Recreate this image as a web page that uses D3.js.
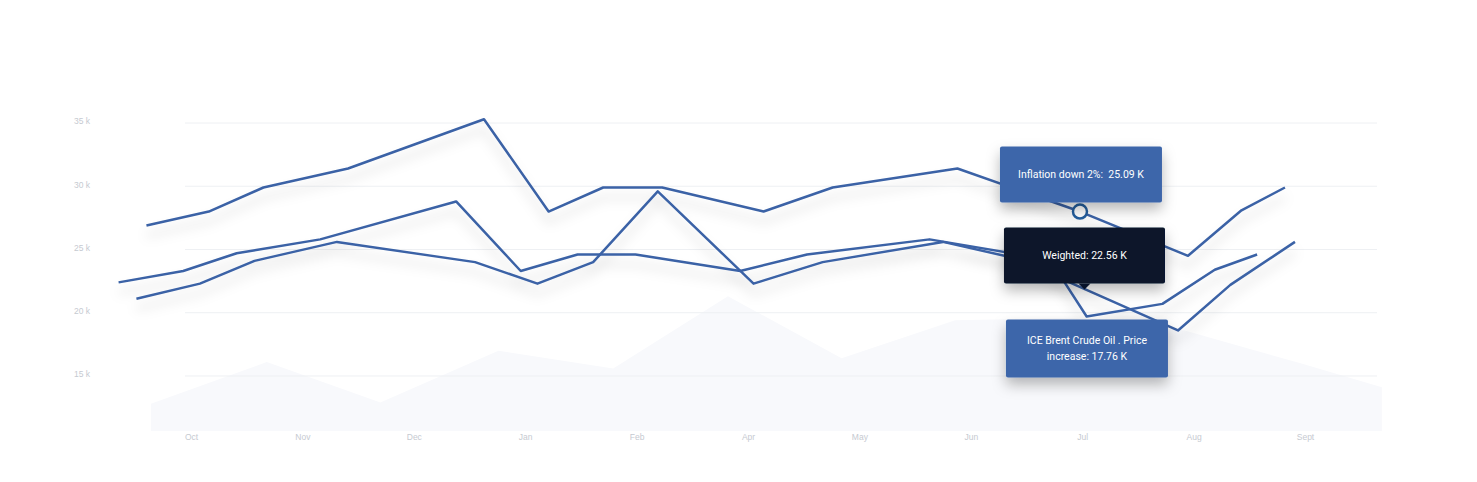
<!DOCTYPE html>
<html>
<head>
<meta charset="utf-8">
<script src="https://cdn.jsdelivr.net/npm/d3@7"></script>
<style>
  body { margin: 0; background: #fff; }
  svg { display: block; font-family: Roboto, "Noto Sans", sans-serif; }
</style>
</head>
<body>
<svg id="chart" width="1477" height="482"></svg>
<script>
// x values are in "month slots" (0 = Oct ... 10 = Sept), y values in thousands
const months = ["Oct", "Nov", "Dec", "Jan", "Feb", "Apr", "May", "Jun", "Jul", "Aug", "Sept"]
const yTicks = [15, 20, 25, 30, 35]

const inflationX = [-0.40, 0.16, 0.65, 1.41, 2.63, 3.21, 3.70, 4.23, 5.14, 5.76, 6.88, 7.98, 8.95, 9.43, 9.82]
const inflationY = [26.9, 28.0, 29.9, 31.4, 35.3, 28.0, 29.9, 29.9, 28.0, 29.9, 31.4, 28.0, 24.5, 28.1, 29.9]

const weightedX = [-0.65, -0.07, 0.41, 1.16, 2.38, 2.96, 3.47, 3.99, 4.93, 5.53, 6.63, 7.71, 8.04, 8.72, 9.19, 9.57]
const weightedY = [22.4, 23.3, 24.7, 25.8, 28.8, 23.3, 24.6, 24.6, 23.3, 24.6, 25.8, 24.2, 19.7, 20.7, 23.4, 24.6]

const brentX = [-0.49, 0.08, 0.57, 1.31, 2.55, 3.11, 3.61, 4.19, 5.05, 5.67, 6.75, 7.40, 8.86, 9.33, 9.91]
const brentY = [21.1, 22.3, 24.1, 25.6, 24.0, 22.3, 24.0, 29.6, 22.3, 24.0, 25.6, 24.3, 18.6, 22.2, 25.6]

const volumeX = [-0.36, 0.68, 1.70, 2.76, 3.79, 4.82, 5.84, 6.86, 7.89, 8.92, 9.96, 10.69]
const volumeY = [12.8, 16.1, 12.9, 17.0, 15.6, 21.3, 16.4, 19.4, 19.6, 18.6, 16.0, 14.1]

// the hovered point on the inflation line
const hoverIndex = 11
const tipInflation = "Inflation down 2%:  25.09 K"
const tipWeighted = "Weighted: 22.56 K"
const tipBrent = ["ICE Brent Crude Oil . Price", "increase: 17.76 K"]

const svg = d3.select("#chart")

const x = d3.scaleLinear().domain([0, 10]).range([191, 1305])
const y = d3.scaleLinear().domain([10.65, 35]).range([431, 123])

const lineColor = "#3b62a6"

// shadows
const defs = svg.append("defs")
const lineShadow = defs.append("filter").attr("id", "lineShadow")
  .attr("x", "-10%").attr("y", "-30%").attr("width", "120%").attr("height", "180%")
lineShadow.append("feDropShadow")
  .attr("dx", 0).attr("dy", 10).attr("stdDeviation", 6)
  .attr("flood-color", "#000").attr("flood-opacity", 0.17)

const boxShadow = defs.append("filter").attr("id", "boxShadow")
  .attr("x", "-30%").attr("y", "-40%").attr("width", "160%").attr("height", "200%")
boxShadow.append("feDropShadow")
  .attr("dx", 0).attr("dy", 7).attr("stdDeviation", 7)
  .attr("flood-color", "#000").attr("flood-opacity", 0.28)

// background area
const volume = volumeX.map((d, i) => ({ x: d, y: volumeY[i] }))
const area = d3.area()
  .x(d => x(d.x))
  .y0(y(10.65))
  .y1(d => y(d.y))

svg.append("path")
  .datum(volume)
  .attr("d", area)
  .attr("fill", "#f8f9fc")

// grid lines
svg.append("g")
  .selectAll("line")
  .data(yTicks)
  .enter().append("line")
    .attr("x1", 185)
    .attr("x2", 1377)
    .attr("y1", d => y(d))
    .attr("y2", d => y(d))
    .attr("stroke", "#eef0f3")
    .attr("stroke-width", 1)

// y axis labels
const yAxis = svg.append("g")
  .attr("transform", "translate(74,0)")
  .call(d3.axisLeft(y).tickValues(yTicks).tickFormat(d => d + " k").tickSize(0))
yAxis.select(".domain").remove()
yAxis.selectAll("text")
  .attr("x", 0)
  .attr("dy", "0.1em")
  .attr("text-anchor", "start")
  .attr("fill", "#c6cad1")
  .style("font-size", "8.5px")

// x axis labels
const xAxis = svg.append("g")
  .attr("transform", "translate(0,431)")
  .call(d3.axisBottom(x).tickValues(d3.range(months.length)).tickFormat(i => months[i]).tickSize(0))
xAxis.select(".domain").remove()
xAxis.selectAll("text")
  .attr("y", 3)
  .attr("fill", "#c6cad1")
  .style("font-size", "8.5px")

// lines
const line = d3.line()
  .x(d => x(d.x))
  .y(d => y(d.y))

const series = [
  { name: "inflation", xs: inflationX, ys: inflationY },
  { name: "weighted", xs: weightedX, ys: weightedY },
  { name: "brent", xs: brentX, ys: brentY }
]

svg.append("g")
  .attr("filter", "url(#lineShadow)")
  .selectAll("path")
  .data(series)
  .enter().append("path")
    .attr("d", s => line(s.xs.map((d, i) => ({ x: d, y: s.ys[i] }))))
    .attr("fill", "none")
    .attr("stroke", lineColor)
    .attr("stroke-width", 2.5)
    .attr("stroke-linejoin", "round")

// hover marker
const cx = x(inflationX[hoverIndex])
const cy = y(inflationY[hoverIndex])

svg.append("circle")
  .attr("cx", cx)
  .attr("cy", cy)
  .attr("r", 7)
  .attr("fill", "#fff")
  .attr("stroke", "#245e9d")
  .attr("stroke-width", 2.5)

// tooltips
function tooltip(left, top, w, h, fill, lines, pointer) {
  const g = svg.append("g").attr("transform", "translate(" + left + "," + top + ")")
  g.append("rect")
    .attr("width", w)
    .attr("height", h)
    .attr("rx", 2)
    .attr("fill", fill)
    .attr("filter", "url(#boxShadow)")
  if (pointer) {
    g.append("path")
      .attr("d", "M" + (w / 2 - 6) + "," + h + "L" + (w / 2) + "," + (h + 6) + "L" + (w / 2 + 6) + "," + h + "Z")
      .attr("fill", fill)
  }
  const lh = 16
  const startY = h / 2 - (lines.length - 1) * lh / 2
  lines.forEach((t, i) => {
    g.append("text")
      .attr("x", w / 2)
      .attr("y", startY + i * lh)
      .attr("dy", "0.35em")
      .attr("text-anchor", "middle")
      .attr("fill", "#fff")
      .style("font-size", "10.5px")
      .style("white-space", "pre")
      .text(t)
  })
}

tooltip(cx - 80, cy - 65, 162, 56, "#3e66aa", [tipInflation], false)
tooltip(cx - 76, cy + 16, 161, 56, "#07122a", [tipWeighted], true)
tooltip(cx - 74, cy + 108, 162, 58, "#3e66aa", tipBrent, false)
</script>
</body>
</html>
